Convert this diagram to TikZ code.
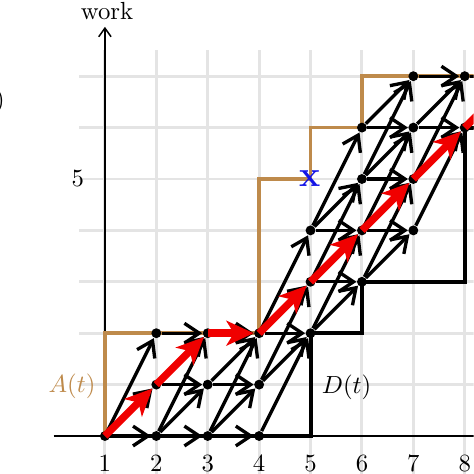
\documentclass[tikz,border=0pt]{standalone}
\usepackage{tikz}
\usetikzlibrary{arrows.meta}
\definecolor{GridGray}{RGB}{228,228,228}
\definecolor{ArrBrown}{RGB}{190,138,75}
\definecolor{PathRed}{RGB}{240,0,0}
\definecolor{MarkBlue}{RGB}{20,20,230}
\tikzset{
  gridline/.style={draw=GridGray,line width=1.2pt,step=0.73cm},
  axis/.style={line width=0.6pt},
  arrival/.style={draw=ArrBrown,line width=1.4pt},
  departure/.style={draw=black,line width=1.6pt},
  state/.style={circle,fill=black,inner sep=0pt,minimum size=4pt},
  move/.style={-{Straight Barb[length=6pt,width=8pt]},line width=1.35pt},
  bestmove/.style={-{Stealth[length=11pt,width=10pt,inset=3pt]},draw=PathRed,line width=3pt}
}

\begin{document}
\begin{tikzpicture}[x=0.73cm,y=0.73cm]
\clip (-1.041,-0.739) rectangle (8.172,8.482);
% grid and axes
\draw[gridline] (0.5,-1) grid (8.5,7.5);
\draw[axis] (0,0) -- (8.6,0);
\draw[axis,-{Straight Barb[length=3.5pt,width=5pt]}] (1,0) -- (1,7.96);
\node (ylab) at (1.04,8.27) {work};
\node (y5) at (0.475,5) {5};
\foreach \t in {1,...,8}
  \node (x\t) at (\t,-0.53) {\t};
\node (cut) at (-1.043,6.52) {)};
% arrival and departure curves
\draw[arrival] (1,0) -- (1,2) -- (4,2) -- (4,5) -- (5,5) -- (5,6) -- (6,6) -- (6,7) -- (8.6,7);
\draw[departure] (1,0) -- (5,0) -- (5,2) -- (6,2) -- (6,3) -- (8,3) -- (8,6) -- (8.6,6);
\node[text=ArrBrown] (alab) at (0.36,0.97) {$A(t)$};
\node (dlab) at (5.70,0.95) {$D(t)$};
% states
\foreach \t/\ws in {1/{0},2/{0,1,2},3/{0,1,2},4/{0,1,2},5/{2,3,4},6/{3,4,5,6},7/{4,5,6,7},8/{6,7}}
  \foreach \w in \ws
    \node[state] (n\t-\w) at (\t,\w) {};
\coordinate (n9-6) at (9,6);
\coordinate (n9-7) at (9,7);
% moves: work grows by 0, 1 or 2 per step
\foreach \t/\ws/\lo/\hi in {1/{0}/0/2,2/{0,1,2}/0/2,3/{0,1,2}/0/2,4/{0,1,2}/2/4,5/{2,3,4}/3/6,6/{3,4,5,6}/4/7,7/{4,5,6,7}/6/7}
  \foreach \w in \ws
    \foreach \k in {0,1,2}{
      \pgfmathtruncatemacro\tnext{\t+1}
      \pgfmathtruncatemacro\wnext{\w+\k}
      \ifnum\wnext<\lo\relax\else\ifnum\wnext>\hi\relax\else
        \draw[move] (n\t-\w) -- (n\tnext-\wnext);
      \fi\fi
    }
\draw[move] (n8-6) -- (n9-6);
\draw[move] (n8-7) -- (n9-7);
% chosen schedule
\foreach \a/\b in {n1-0/n2-1,n2-1/n3-2,n3-2/n4-2,n4-2/n5-3,n5-3/n6-4,n6-4/n7-5,n7-5/n8-6,n8-6/n9-7}
  \draw[bestmove] (\a.center) -- (\b);
\node[text=MarkBlue,font=\Large\bfseries] (xmark) at (5,5) {x};
\end{tikzpicture}
\end{document}
